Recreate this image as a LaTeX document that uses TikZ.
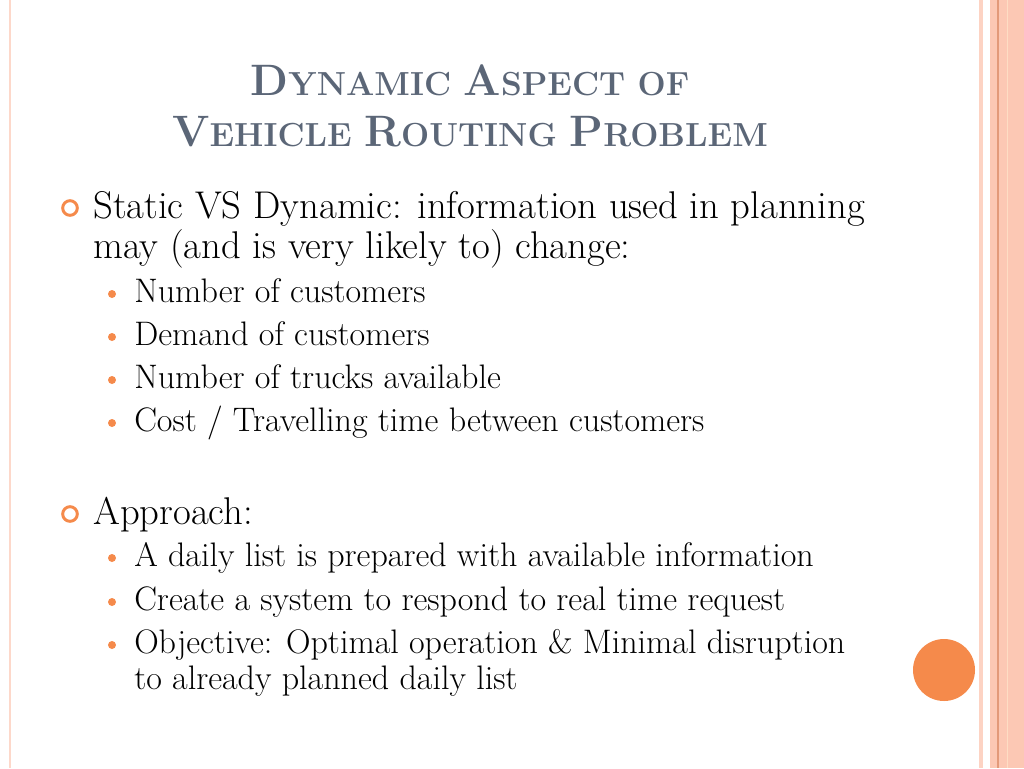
\documentclass[tikz,border=0pt]{standalone}
\usepackage{tikz}
\definecolor{stripe}{HTML}{FCC8B4}
\definecolor{stripeline}{HTML}{E39A7A}
\definecolor{accent}{HTML}{F58A4B}
\definecolor{titlegray}{HTML}{5B6677}
\newcommand{\capfirst}[2]{{\fontsize{33}{38}\selectfont #1}{\fontsize{25}{30}\selectfont #2}}
\begin{document}
\begin{tikzpicture}[
    x=0.75pt,y=-0.75pt,
    title/.style={anchor=center,text=titlegray,font=\bfseries\fontsize{25}{30}\selectfont},
    main/.style={anchor=base west,font=\fontsize{29}{34}\selectfont,inner sep=0},
    sub/.style={anchor=base west,font=\fontsize{25.5}{30}\selectfont,inner sep=0},
    ring/.style={circle,draw=accent,line width=2.2pt,minimum size=11pt,inner sep=0},
    dot/.style={circle,fill=accent,minimum size=6pt,inner sep=0},
]
    \useasboundingbox (0,0) rectangle (1024,768);
    %border stripes
    \fill[stripe!70] (9,0) rectangle (11,768);
    \fill[stripe!80] (979,0) rectangle (983,768);
    \fill[stripe] (990,0) rectangle (1024,768);
    \draw[stripeline,line width=0.8pt] (998,0) -- (998,768);
    \fill[stripe!60!orange!40] (1007,0) rectangle (1008,768);

    %title
    \node[title] (t1) at (470,80) {\capfirst{D}{YNAMIC} \capfirst{A}{SPECT OF}};
    \node[title] (t2) at (470,132) {\capfirst{V}{EHICLE} \capfirst{R}{OUTING} \capfirst{P}{ROBLEM}};

    %first block
    \node[ring] (b1) at (70,208) {};
    \node[main] (l1) at (93,218) {Static VS Dynamic: information used in planning};
    \node[main] (l2) at (93,258) {may (and is very likely to) change:};
    \node[dot] (s1) at (112,294) {};
    \node[sub] (m1) at (134,302) {Number of customers};
    \node[dot] (s2) at (112,337) {};
    \node[sub] (m2) at (134,345) {Demand of customers};
    \node[dot] (s3) at (112,380) {};
    \node[sub] (m3) at (134,388) {Number of trucks available};
    \node[dot] (s4) at (112,423) {};
    \node[sub] (m4) at (134,431) {Cost / Travelling time between customers};

    %second block
    \node[ring] (b2) at (70,514) {};
    \node[main] (l3) at (93,524) {Approach:};
    \node[dot] (s5) at (112,558) {};
    \node[sub] (m5) at (134,566) {A daily list is prepared with available information};
    \node[dot] (s6) at (112,602) {};
    \node[sub] (m6) at (134,610) {Create a system to respond to real time request};
    \node[dot] (s7) at (112,645) {};
    \node[sub] (m7) at (134,653) {Objective: Optimal operation \& Minimal disruption};
    \node[sub] (m8) at (134,689) {to already planned daily list};

    \fill[accent] (944,670) circle (31);
\end{tikzpicture}
\end{document}
